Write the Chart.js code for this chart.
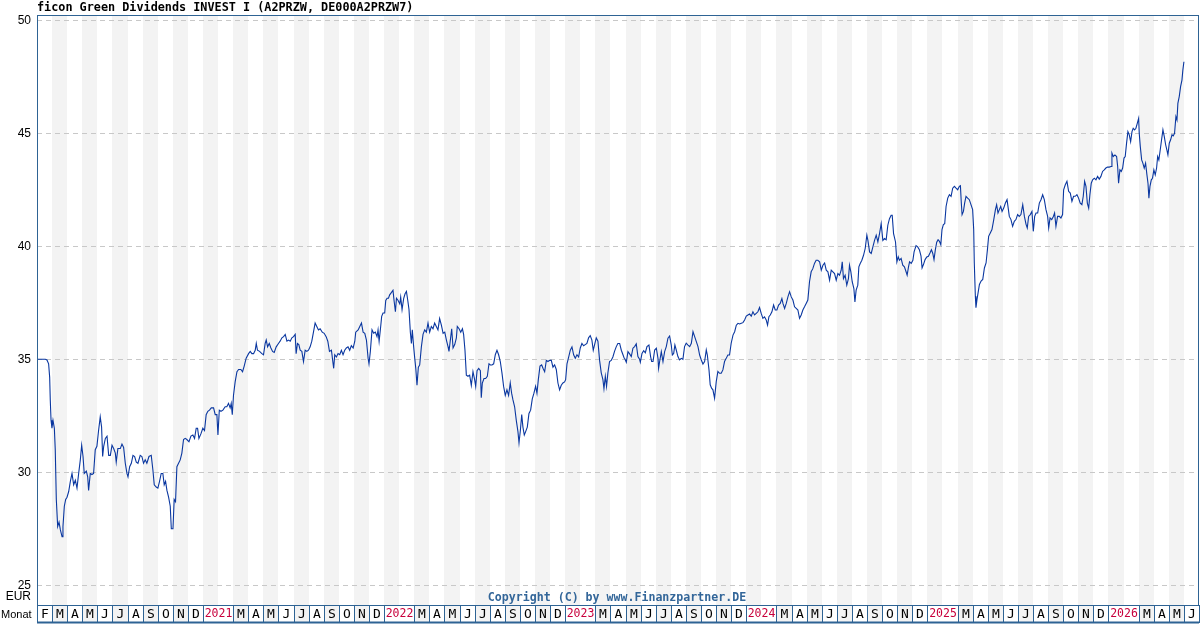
<!DOCTYPE html>
<html>
<head>
<meta charset="utf-8">
<script src="https://cdn.jsdelivr.net/npm/chart.js@4.4.1/dist/chart.umd.min.js"></script>
<style>
  html, body { margin: 0; padding: 0; background: #fff; }
  #wrap { width: 1200px; height: 630px; }
</style>
</head>
<body>
<div id="wrap"><canvas id="chart" width="1200" height="630"></canvas></div>
<script>
const title = "ficon Green Dividends INVEST I (A2PRZW, DE000A2PRZW7)";
const copyright = "Copyright (C) by www.Finanzpartner.DE";
const yUnit = "EUR";
const xUnit = "Monat";

// time in months since 1 Feb 2020
const tMonths = [
  0,0.55,0.66,0.77,0.84,0.88,0.93,0.99,1.06,1.15,
  1.21,1.28,1.37,1.46,1.55,1.66,1.72,1.81,1.90,1.99,
  2.10,2.21,2.32,2.43,2.54,2.65,2.76,2.87,2.96,3.05,
  3.13,3.27,3.36,3.42,3.53,3.64,3.75,3.86,3.97,4.08,
  4.19,4.28,4.35,4.42,4.53,4.64,4.75,4.86,4.97,5.08,
  5.19,5.25,5.36,5.52,5.63,5.74,5.85,5.96,6.03,6.14,
  6.25,6.36,6.47,6.58,6.69,6.84,6.95,7.06,7.17,7.28,
  7.42,7.57,7.68,7.77,7.90,8.01,8.12,8.23,8.34,8.43,
  8.52,8.61,8.72,8.83,8.90,9.01,9.09,9.18,9.27,9.38,
  9.49,9.60,9.71,9.82,9.93,10.07,10.20,10.33,10.44,10.55,
  10.64,10.73,10.86,10.99,11.10,11.21,11.32,11.43,11.55,11.70,
  11.81,11.92,11.99,12.08,12.19,12.32,12.47,12.58,12.69,12.80,
  12.87,12.94,13.02,13.13,13.25,13.36,13.51,13.62,13.73,13.86,
  14.02,14.13,14.24,14.35,14.46,14.53,14.61,14.75,14.90,15.01,
  15.12,15.19,15.28,15.39,15.50,15.61,15.72,15.85,16.00,16.11,
  16.23,16.34,16.45,16.56,16.67,16.78,16.89,17.00,17.11,17.17,
  17.26,17.35,17.44,17.55,17.66,17.77,17.88,17.99,18.10,18.21,
  18.32,18.43,18.54,18.65,18.76,18.90,19.03,19.16,19.27,19.38,
  19.51,
  19.62,19.66,19.73,19.84,19.95,20.06,20.17,20.28,20.39,20.50,
  20.61,20.72,20.83,20.95,21.06,21.12,21.28,21.39,21.50,21.61,
  21.72,21.83,21.94,22.00,22.09,22.20,22.31,22.42,22.53,22.60,
  22.67,22.76,22.84,22.93,23.04,23.11,23.20,23.29,23.37,23.48,
  23.59,23.66,23.75,23.82,23.93,24.04,24.10,24.19,24.30,24.39,
  24.48,24.57,24.65,24.74,24.81,24.87,24.96,25.03,25.10,25.18,
  25.27,25.36,25.47,25.58,25.69,25.80,25.91,26.02,26.13,26.24,
  26.35,26.46,26.57,26.68,26.80,26.91,27.02,27.13,27.24,27.30,
  27.39,27.48,27.57,27.68,27.79,27.85,27.97,28.08,28.19,28.27,
  28.36,28.45,28.56,28.67,28.78,28.89,29.00,29.07,29.16,29.27,
  29.38,29.44,29.51,29.62,29.73,29.84,29.95,30.04,30.15,30.26,
  30.37,30.48,30.59,30.70,30.81,30.92,31.03,31.14,31.25,31.36,
  31.45,31.54,31.65,31.76,31.87,31.94,32.03,32.12,32.20,32.29,
  32.38,32.49,32.60,32.71,32.82,32.93,33.04,33.13,33.22,33.33,
  33.44,33.53,33.64,33.75,33.86,33.97,34.08,34.19,34.30,34.41,
  34.52,34.63,34.74,34.85,34.96,35.03,35.12,35.23,35.34,35.45,
  35.56,35.67,35.78,35.89,36.00,36.11,36.22,36.33,36.44,36.55,
  36.66,36.77,36.86,36.95,37.06,37.17,37.28,37.39,37.50,37.57,
  37.66,37.74,37.83,37.94,38.05,38.16,38.27,38.38,38.49,38.61,
  38.72,38.83,38.91,
  38.94,39.05,39.16,39.27,39.38,39.49,39.60,39.71,39.82,39.93,
  39.98,40.09,40.20,40.31,40.42,40.55,40.66,40.73,40.82,40.93,
  41.04,41.15,41.19,41.26,41.37,41.48,41.59,41.70,41.81,41.92,
  42.03,42.10,42.19,42.27,42.36,42.47,42.58,42.69,42.80,42.91,
  43.02,43.14,43.25,43.36,43.47,43.58,43.69,43.80,43.91,44.02,
  44.13,44.24,44.35,44.42,44.53,44.61,44.70,44.79,44.90,45.01,
  45.12,45.23,45.34,45.45,45.56,45.67,45.78,45.89,46.00,46.12,
  46.23,46.34,46.45,46.56,46.67,46.78,46.89,47.00,47.11,47.22,
  47.33,47.44,47.55,47.66,47.77,47.88,47.99,48.10,48.21,48.32,
  48.41,48.50,48.59,48.70,48.81,48.92,49.03,49.14,49.25,49.36,
  49.43,49.54,49.65,49.76,49.87,49.98,50.09,50.20,50.31,50.42,
  50.53,50.64,50.75,50.86,50.97,51.08,51.19,51.30,51.41,51.52,
  51.63,51.74,51.86,51.97,52.08,52.19,52.30,52.41,52.52,52.63,
  52.74,52.85,52.96,53.07,53.18,53.29,53.36,53.44,53.55,53.66,
  53.77,53.84,53.93,54.02,54.13,54.20,54.28,54.39,54.46,54.55,
  54.66,54.77,54.88,54.99,55.06,55.17,55.28,55.39,55.50,55.61,
  55.72,55.83,55.94,56.05,56.16,56.27,56.38,56.49,56.60,56.67,
  56.76,56.89,56.98,57.07,57.15,57.26,57.37,57.48,57.59,57.66,
  57.75,57.82,57.93,58.04,58.12,
  58.25,58.36,58.47,58.58,58.65,58.74,58.85,58.96,59.07,59.18,
  59.27,59.36,59.44,59.53,59.62,59.71,59.80,59.89,59.97,60.06,
  60.15,60.24,60.35,60.46,60.57,60.68,60.79,60.90,61.01,61.12,
  61.19,61.25,61.30,61.39,61.47,61.56,61.67,61.78,61.89,62.00,
  62.07,62.11,62.18,62.22,62.29,62.36,62.45,62.56,62.67,62.78,
  62.89,62.98,63.06,63.17,63.28,63.40,63.51,63.59,63.68,63.77,
  63.86,63.95,64.06,64.17,64.28,64.37,64.43,64.54,64.65,64.76,
  64.87,64.98,65.09,65.20,65.32,65.43,65.54,65.62,65.71,65.82,
  65.93,66.02,66.11,66.20,66.31,66.42,66.53,66.64,66.75,66.86,
  66.97,67.04,67.13,67.24,67.35,67.43,67.52,67.63,67.74,67.85,
  67.96,68.03,68.14,68.25,68.36,68.47,68.58,68.69,68.80,68.91,
  69.02,69.13,69.24,69.33,69.42,69.51,69.60,69.69,69.77,69.86,
  69.95,70.06,70.17,70.28,70.39,70.50,70.61,70.72,70.83,70.94,
  71.05,71.17,71.23,71.32,71.43,71.54,71.61,71.67,71.76,71.85,
  71.94,72.03,72.11,72.20,72.29,72.38,72.47,72.56,72.64,72.73,
  72.82,72.91,73.00,73.04,73.11,73.20,73.28,73.37,73.46,73.55,
  73.62,73.68,73.75,73.84,73.92,74.01,74.10,74.19,74.26,74.34,
  74.43,74.52,74.61,74.70,74.79,74.87,74.94,75.03,75.12,75.21,
  75.29,75.38,75.47,75.54,75.60,75.69,75.78,75.87,75.93,76.00
];

// price in EUR
const prices = [
  35.0,35.0,34.97,34.8,34.2,33.2,32.3,31.95,32.3,31.95,
  31.0,28.8,27.6,27.8,27.45,27.15,27.6,28.5,28.8,28.9,
  29.15,29.6,29.95,29.45,29.65,29.3,29.95,30.55,31.2,30.7,
  29.95,30.05,29.8,29.2,29.95,29.9,29.95,31.0,31.15,31.85,
  32.45,32.0,30.7,31.15,31.5,31.6,30.75,30.75,31.2,31.05,
  30.85,30.45,31.05,31.05,31.25,31.1,30.4,29.95,29.8,30.25,
  30.4,30.75,30.7,30.45,30.4,30.75,30.7,30.4,30.55,30.4,
  30.7,30.75,30.1,29.45,29.35,29.3,29.6,29.95,29.95,29.45,
  29.6,29.2,28.9,28.5,27.5,27.5,28.8,28.7,30.25,30.4,
  30.55,30.85,31.45,31.5,31.45,31.35,31.6,31.65,31.5,31.95,
  31.95,31.5,31.7,31.95,31.85,32.55,32.7,32.75,32.85,32.85,
  32.55,32.55,31.65,32.75,32.7,32.75,32.9,32.9,33.05,32.85,
  33.05,32.55,33.4,34.0,34.45,34.55,34.55,34.45,34.7,35.05,
  35.25,35.35,35.25,35.25,35.4,35.7,35.4,35.35,35.25,35.2,
  35.7,35.85,35.55,35.7,35.5,35.35,35.3,35.55,35.7,35.8,
  35.95,36.0,36.1,35.8,35.85,35.8,35.95,36.0,36.1,35.25,
  35.7,35.65,35.4,35.35,34.9,35.4,35.35,35.4,35.55,35.8,
  36.2,36.6,36.45,36.3,36.35,36.2,36.15,36.0,35.8,35.35,
  35.4,
  34.8,34.6,35.2,35.1,35.25,35.2,35.4,35.2,35.4,35.5,
  35.55,35.4,35.6,35.5,35.8,36.2,36.3,36.45,36.6,36.2,
  36.15,35.85,35.05,34.8,35.35,36.3,36.15,36.2,36.0,36.3,
  35.8,36.35,36.9,37.05,37.05,37.6,37.7,37.7,37.85,37.95,
  38.05,37.6,37.1,37.7,37.6,37.45,37.75,37.2,37.7,37.9,
  38.0,37.6,37.2,36.2,35.7,36.3,35.55,35.05,34.6,33.85,
  34.65,34.75,35.55,36.1,36.3,36.2,36.6,36.2,36.45,36.35,
  36.6,36.45,36.3,36.8,36.5,36.15,36.2,35.85,35.55,35.35,
  35.85,36.35,35.5,35.65,35.95,36.45,36.35,36.2,36.35,36.1,
  35.4,34.3,34.25,34.3,33.85,34.45,34.1,33.8,34.5,34.6,
  34.5,33.3,33.95,34.15,34.15,34.25,34.8,34.75,34.75,34.8,
  35.2,35.4,35.2,34.9,34.4,33.8,33.4,33.65,33.4,33.95,
  33.5,33.2,32.9,32.3,31.8,31.3,31.85,32.55,32.0,31.65,
  31.8,32.0,32.6,32.75,33.25,33.5,33.8,33.5,34.1,34.7,
  34.75,34.6,34.45,34.95,34.9,34.95,34.95,34.65,34.75,34.55,
  33.95,33.65,33.85,33.95,34.0,34.1,34.8,35.1,35.4,35.55,
  35.2,35.05,35.2,35.1,35.5,35.7,35.6,35.65,35.7,35.95,
  36.05,35.85,35.4,35.65,35.95,35.8,34.95,34.4,34.1,33.7,
  34.25,33.8,34.4,34.9,34.95,35.1,35.35,35.55,35.7,35.7,
  35.4,35.2,35.05,
  35.04,34.87,35.34,35.24,35.12,35.49,35.56,35.68,35.12,35.0,
  34.87,35.26,35.38,35.29,35.56,35.63,35.12,34.9,34.9,35.41,
  35.49,35.04,34.6,34.9,35.34,34.9,35.34,35.56,35.93,36.03,
  35.63,35.19,35.26,35.63,35.41,35.12,34.97,35.04,35.0,35.56,
  35.71,35.63,35.56,35.71,36.22,36.0,35.78,35.56,35.19,34.97,
  34.79,34.9,35.41,35.19,34.53,33.87,33.72,33.65,33.28,34.01,
  34.46,34.38,34.38,34.53,34.9,35.04,35.19,35.19,35.71,36.07,
  36.22,36.51,36.59,36.56,36.59,36.62,36.74,36.91,36.96,37.0,
  36.91,37.1,36.96,37.03,37.1,37.29,37.03,36.81,36.88,36.74,
  36.51,36.88,36.96,37.1,37.4,37.18,37.18,37.4,37.47,37.69,
  37.47,37.25,37.47,37.76,37.99,37.76,37.62,37.32,37.25,37.18,
  36.81,36.96,37.18,37.32,37.47,37.62,38.43,38.87,39.01,39.24,
  39.38,39.38,39.31,38.94,39.16,39.26,38.94,38.87,38.5,38.94,
  38.87,38.79,38.5,38.79,38.72,38.94,39.31,38.57,38.72,38.28,
  38.57,39.16,38.87,38.43,38.13,37.54,38.06,38.28,39.09,39.24,
  39.38,39.6,39.9,40.49,40.26,39.75,39.68,39.97,40.26,40.49,
  40.19,40.56,41.0,40.26,40.34,40.29,40.93,41.22,41.37,41.37,
  40.56,40.19,39.31,39.53,39.38,39.46,39.16,39.09,38.87,38.72,
  39.09,39.31,39.24,39.38,39.75,
  40.03,39.97,39.85,39.56,39.04,39.19,39.41,39.53,39.56,39.71,
  39.85,39.68,39.41,39.85,40.18,40.29,40.22,40.07,40.74,40.96,
  41.0,41.76,42.13,42.28,42.21,42.57,42.65,42.57,42.5,42.65,
  42.68,41.91,41.4,41.54,41.91,42.21,42.13,42.06,41.84,41.62,
  40.74,39.26,37.79,37.28,37.65,37.94,38.31,38.46,38.53,39.04,
  39.26,39.85,40.44,40.59,40.74,41.18,41.62,41.84,41.47,41.62,
  41.76,41.54,41.69,41.91,42.06,41.62,41.32,41.18,40.88,41.1,
  41.18,41.4,41.32,41.4,41.84,41.32,40.97,40.81,41.32,41.4,
  41.54,40.66,41.32,41.47,41.47,41.91,42.06,42.28,42.06,41.62,
  41.32,40.81,41.25,41.18,41.32,41.47,40.88,41.32,41.32,41.25,
  41.4,42.5,42.72,42.87,42.43,42.35,41.99,42.21,42.21,42.28,
  42.13,41.91,41.84,42.21,42.87,42.65,41.91,41.69,42.28,42.79,
  42.94,43.01,42.94,43.09,42.97,43.09,43.31,43.38,43.46,43.5,
  43.5,43.53,44.12,43.97,44.04,43.97,43.53,42.79,43.38,43.31,
  43.46,43.9,43.97,44.56,45.07,44.93,44.63,45.07,45.22,45.15,
  45.22,45.44,45.66,45.0,44.41,43.82,43.68,43.46,43.68,43.16,
  42.79,42.13,42.65,42.94,43.01,43.38,43.16,43.46,43.97,43.82,
  44.26,44.71,45.15,44.85,44.49,44.26,44.04,44.56,44.71,44.93,
  44.88,45.0,45.74,45.59,46.32,46.62,47.06,47.35,47.79,48.16
];

const yTicks = [25, 30, 35, 40, 45, 50];
const monthLetters = ["J", "F", "M", "A", "M", "J", "J", "A", "S", "O", "N", "D"];
const firstYear = 2020;
const firstMonth = 1;   // February
const monthCount = 77;  // Feb 2020 .. Jun 2026

const frameColor = "#2e6394";
const bandColor = "#f3f3f3";
const gridColor = "#c8c8c8";
const lineColor = "#0a37a0";
const yearColor = "#c8003c";

const decor = {
  id: "decor",
  beforeDatasetsDraw(chart) {
    const { ctx, chartArea: a, scales: { x, y } } = chart;
    ctx.save();
    // month bands
    ctx.fillStyle = bandColor;
    for (let i = 0; i < monthCount; i++) {
      if (i % 2 === 1) {
        const x0 = Math.round(x.getPixelForValue(i));
        const x1 = Math.round(x.getPixelForValue(i + 1));
        ctx.fillRect(x0, a.top, x1 - x0, a.bottom - a.top);
      }
    }
    // dashed grid
    ctx.strokeStyle = gridColor;
    ctx.lineWidth = 1;
    ctx.setLineDash([5, 4]);
    yTicks.forEach(v => {
      const py = Math.round(y.getPixelForValue(v)) + 0.5;
      ctx.beginPath();
      ctx.moveTo(a.left, py);
      ctx.lineTo(a.right, py);
      ctx.stroke();
    });
    ctx.restore();
  },
  afterDraw(chart) {
    const { ctx, chartArea: a, scales: { x, y } } = chart;
    ctx.save();

    // y labels
    ctx.fillStyle = "#000";
    ctx.font = "12px 'Liberation Sans'";
    ctx.textAlign = "right";
    ctx.textBaseline = "middle";
    yTicks.forEach(v => {
      ctx.fillText(String(v), a.left - 6, y.getPixelForValue(v) + 0.5);
    });
    ctx.fillText(yUnit, a.left - 6, 597);

    // month cells
    const top = a.bottom;
    const bottom = a.bottom + 17;
    ctx.textAlign = "center";
    for (let i = 0; i < monthCount; i++) {
      const m = (firstMonth + i) % 12;
      const yr = firstYear + Math.floor((firstMonth + i) / 12);
      if (m === 1 && i > 0) continue;
      const span = m === 0 ? 2 : 1;
      const x0 = Math.round(x.getPixelForValue(i));
      const x1 = Math.round(x.getPixelForValue(Math.min(i + span, monthCount)));
      ctx.fillStyle = (m !== 0 && i % 2 === 1) ? bandColor : "#fff";
      ctx.fillRect(x0, top, x1 - x0, bottom - top);
      ctx.strokeStyle = frameColor;
      ctx.lineWidth = 1;
      ctx.strokeRect(x0 + 0.5, top + 0.5, x1 - x0, bottom - top);
      ctx.fillStyle = m === 0 ? yearColor : "#000";
      ctx.font = m === 0 ? "11.5px 'DejaVu Sans Mono'" : "13px 'DejaVu Sans Mono'";
      ctx.fillText(m === 0 ? String(yr) : monthLetters[m], (x0 + x1) / 2 + 0.5, (top + bottom) / 2 + 1);
    }
    ctx.strokeStyle = frameColor;
    ctx.lineWidth = 2;
    ctx.beginPath();
    ctx.moveTo(a.left, bottom + 0.5);
    ctx.lineTo(a.right, bottom + 0.5);
    ctx.stroke();

    ctx.fillStyle = "#000";
    ctx.font = "11px 'Liberation Sans'";
    ctx.textAlign = "left";
    ctx.fillText(xUnit, 1, (top + bottom) / 2 + 1);

    // frame
    ctx.strokeStyle = frameColor;
    ctx.lineWidth = 1;
    ctx.strokeRect(a.left + 0.5, a.top + 0.5, a.right - a.left - 1, a.bottom - a.top);

    // title
    ctx.fillStyle = "#000";
    ctx.font = "bold 11.8px 'DejaVu Sans Mono'";
    ctx.textAlign = "left";
    ctx.textBaseline = "middle";
    ctx.fillText(title, a.left, 8);

    // copyright
    ctx.fillStyle = "#336699";
    ctx.font = "bold 11.6px 'DejaVu Sans Mono'";
    ctx.textAlign = "center";
    ctx.fillText(copyright, 617, 598);

    ctx.restore();
  }
};

new Chart(document.getElementById("chart"), {
  type: "line",
  data: {
    datasets: [{
      data: tMonths.map((t, i) => ({ x: t, y: prices[i] })),
      borderColor: lineColor,
      borderWidth: 1.1,
      pointRadius: 0,
      tension: 0,
      fill: false
    }]
  },
  options: {
    responsive: false,
    animation: false,
    devicePixelRatio: 1,
    layout: { padding: { left: 37, top: 15, right: 1, bottom: 25 } },
    scales: {
      x: { type: "linear", display: false, min: 0, max: monthCount },
      y: { display: false, min: 24.13, max: 50.23 }
    },
    plugins: { legend: { display: false }, tooltip: { enabled: false } }
  },
  plugins: [decor]
});
</script>
</body>
</html>
